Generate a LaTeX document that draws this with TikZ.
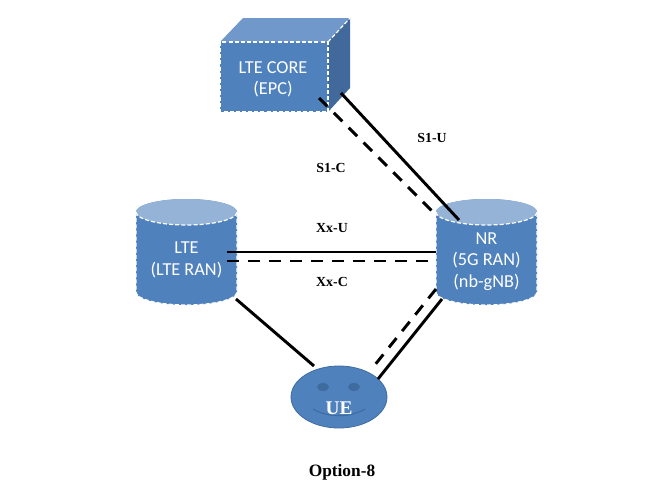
\documentclass[tikz,border=0pt]{standalone}
\usepackage{fontspec}
\setmainfont{Liberation Serif}
\newfontfamily\calib{Carlito}
\usetikzlibrary{calc,shapes.geometric}
\definecolor{bodyblue}{HTML}{4F81BD}
\definecolor{topblue}{HTML}{95B3D7}
\definecolor{cubetop}{HTML}{7098CA}
\definecolor{cubeside}{HTML}{41699C}
\definecolor{ueedge}{HTML}{3F6C9F}
\tikzset{
  x=0.75pt,y=-0.75pt,
  shapetext/.style={text=white,font=\calib\fontsize{13.7}{16}\selectfont,align=center,inner sep=0pt},
  linklabel/.style={font=\bfseries\fontsize{10.4}{12}\selectfont,inner sep=0pt},
  whitedash/.style={draw=white,line width=0.9pt,dash pattern=on 3pt off 1.6pt},
  solidlink/.style={line width=2.2pt,black},
  dashlink/.style={line width=2.2pt,black,dash pattern=on 9pt off 6.75pt},
  ghostbox/.style={inner sep=0pt,outer sep=0pt,minimum width=101*0.75pt,minimum height=106*0.75pt},
}
\newcommand{\cylshape}[4]{%
  \path[fill=bodyblue] (#1,212) arc[x radius=50.5,y radius=13,start angle=180,end angle=360]
    -- (#1+101,292) arc[x radius=50.5,y radius=13,start angle=0,end angle=180] -- cycle;
  \draw[whitedash] (#1,212) -- (#1,292) arc[x radius=50.5,y radius=13,start angle=180,end angle=0] -- (#1+101,212);
  \path[fill=topblue] (#1+50.5,212) ellipse[x radius=50.5,y radius=13];
  \draw[whitedash] (#1,212) arc[x radius=50.5,y radius=13,start angle=180,end angle=0];
  \node[ghostbox] (#2) at (#1+50.5,252) {};
  \node[shapetext] (#2text) at (#1+50.5,#4) {#3};
}
\begin{document}
\begin{tikzpicture}
\useasboundingbox (0,0) rectangle (664,500);
\fill[white] (0,0) rectangle (664,500);
% EPC cube
\path[fill=cubetop] (220,42) -- (243,18) -- (350,18) -- (328,42) -- cycle;
\path[fill=cubeside] (328,42) -- (350,18) -- (350,88) -- (328,112) -- cycle;
\node[fill=bodyblue,inner sep=0pt,outer sep=0pt,minimum width=108*0.75pt,minimum height=70*0.75pt] (epc) at (274,77) {};
\draw[whitedash] (epc.north west) rectangle (epc.south east);
\draw[whitedash] (epc.north east) -- (350,18);
\node[shapetext] (epctext) at (273,79.5) {LTE CORE\\(EPC)};
% Cylinders
\cylshape{136}{lte}{LTE\\(LTE RAN)}{260}
\cylshape{436}{nr}{NR\\(5G RAN)\\(nb-gNB)}{261.5}
% UE
\node[ellipse,draw=ueedge,line width=0.6pt,fill=bodyblue,inner sep=0pt,outer sep=0pt,minimum width=96*0.75pt,minimum height=62*0.75pt] (ue) at (339,397) {};
\fill[ueedge] (323,387) ellipse[x radius=6,y radius=4];
\fill[ueedge] (354,387) ellipse[x radius=6,y radius=4];
\draw[ueedge,line width=0.8pt] (313,409) .. controls (328,418) and (350,418) .. (365,409);
\node[text=white,font=\bfseries\fontsize{14.5}{16}\selectfont,inner sep=0pt] (uetext) at (339,408) {UE};
% Connectors
\draw[solidlink] ($(epc.south east)+(13,-19)$) -- ($(nr.north west)+(23,21)$);
\draw[dashlink] ($(epc.south east)+(-9,-14)$) -- ($(nr.north west)+(0,16)$);
\draw[solidlink] ($(lte.east)+(-10,0)$) -- (nr.west);
\draw[dashlink] ($(lte.east)+(-10,9)$) -- ($(nr.west)+(0,9)$);
\draw[solidlink] ($(lte.south east)+(-1,-6)$) -- ($(ue.north)+(-25,0)$);
\draw[solidlink] ($(nr.south west)+(6,-6)$) -- ($(ue.east)+(-9,-18)$);
\draw[dashlink] ($(nr.south west)+(0,-16)$) -- ($(ue.north)+(35,0)$);
% Labels
\node[linklabel] (s1u) at (432,138) {S1-U};
\node[linklabel] (s1c) at (331,168) {S1-C};
\node[linklabel] (xxu) at (332,228) {Xx-U};
\node[linklabel] (xxc) at (332,282) {Xx-C};
\node[font=\bfseries\fontsize{13}{15}\selectfont,inner sep=0pt] (opt) at (342,472) {Option-8};
\end{tikzpicture}
\end{document}
